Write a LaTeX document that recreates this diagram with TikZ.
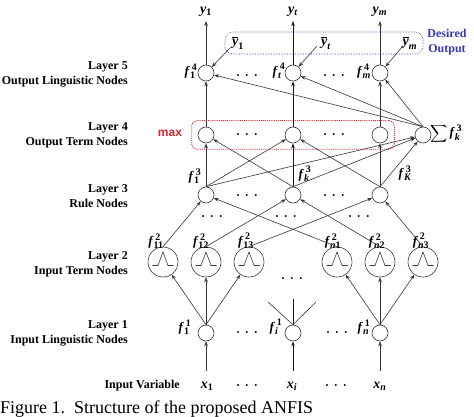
\documentclass[tikz,border=0pt]{standalone}
\usepackage{fontspec}
\usepackage{amsmath}
\setmainfont{Liberation Serif}[BoldFont={Liberation Serif Bold},ItalicFont={Liberation Serif Italic},BoldItalicFont={Liberation Serif Bold Italic}]
\newfontfamily\maxfont{Liberation Sans}
\DeclareMathSizes{12}{12}{9}{7}
\DeclareMathSizes{13}{13}{10}{7}
\DeclareMathSizes{14}{14}{10}{8}
\usetikzlibrary{arrows.meta,fit}
\definecolor{lc}{RGB}{55,55,55}
\definecolor{redb}{RGB}{215,35,45}
\definecolor{blueb}{RGB}{55,55,185}
\newcommand\bi[1]{\textbf{\textit{#1}}}
\newcommand\fl[2]{$\text{\bi{f}}_{\text{\bfseries #1}}^{\,\text{\bfseries #2}}$}
\newcommand\ddd{\makebox[22pt]{·\hfill·\hfill·}}
\begin{document}
\begin{tikzpicture}[x=1pt,y=-1pt,
 nd/.style={circle,draw=lc,line width=0.6pt,minimum size=16pt,inner sep=0pt},
 bignd/.style={circle,draw=lc,line width=0.6pt,minimum size=30pt,inner sep=0pt},
 arr/.style={draw=lc,line width=0.6pt,-{Stealth[length=5pt,width=3.6pt]}},
 thk/.style={line width=1pt,draw=black!90},
 plain/.style={draw=lc,line width=0.6pt},
 lab/.style={font=\fontsize{13}{13}\selectfont,inner sep=0pt},
 big/.style={font=\fontsize{14}{14}\selectfont,inner sep=0pt},
 layer/.style={font=\fontsize{12}{15}\selectfont\bfseries,align=right,anchor=east,inner sep=0pt},
 dots/.style={font=\fontsize{12}{12}\selectfont\bfseries,inner sep=0pt},
 redbox/.style={draw=redb,densely dotted,line width=0.9pt,rounded corners=5pt},
 bluebox/.style={draw=blueb,densely dotted,line width=0.6pt,rounded corners=8pt},
 glyph/.style={draw=lc,line width=0.6pt}
]
\useasboundingbox (0,0) rectangle (474,417);
\clip (0,0) rectangle (474,417);
\fill[white] (0,0) rectangle (474,417);

% layer labels
\node[layer] (L5) at (128,74.5) {Layer 5\\Output Linguistic Nodes};
\node[layer] (L4) at (128,135) {Layer 4\\Output Term Nodes};
\node[layer] (L3) at (128,196.5) {Layer 3\\Rule Nodes};
\node[layer] (L2) at (128,264.5) {Layer 2\\Input Term Nodes};
\node[layer] (L1) at (128,333.5) {Layer 1\\Input Linguistic Nodes};
\node[layer] (IV) at (180,386) {Input Variable};

% circles
\node[nd] (o1) at (206,73) {};
\node[nd] (ot) at (293,73) {};
\node[nd] (om) at (380,73) {};
\node[nd] (p1) at (206,135) {};
\node[nd] (pt) at (293,135) {};
\node[nd] (pm) at (380,135) {};
\node[nd] (sum) at (423,135) {};
\node[nd] (r1) at (206,195) {};
\node[nd] (rk) at (293,195) {};
\node[nd] (rK) at (380,195) {};
\node[bignd] (a1) at (163,262) {};
\node[bignd] (a2) at (206,262) {};
\node[bignd] (a3) at (249,262) {};
\node[bignd] (b1) at (337,262) {};
\node[bignd] (b2) at (380,262) {};
\node[bignd] (b3) at (423,262) {};
\node[nd] (l1a) at (206,333) {};
\node[nd] (l1b) at (293,333) {};
\node[nd] (l1c) at (380,333) {};

\foreach \n in {a1,a2,a3,b1,b2,b3}
  \draw[glyph] ([shift={(-10.5,3.5)}]\n.center) -- ++(5.5,0) -- ++(5,-13.5) -- ++(5,13.5) -- ++(5.5,0);

% boxes
\node[redbox,fit=(p1)(pm),inner sep=6pt] (mbox) {};
\node[bluebox,minimum width=198pt,minimum height=22pt] (dbox) at (324,43) {};
\node[text=redb,font=\maxfont\bfseries\fontsize{12}{12}\selectfont,inner sep=0pt] (max) at (170,133) {max};
\node[text=blueb,font=\fontsize{12}{15}\selectfont\bfseries,align=center,inner sep=0pt] (des) at (447,42) {Desired\\Output};

% outputs
\node[big] (y1) at (206,12) {\bi{y}$_{\text{\bfseries 1}}$};
\node[big] (yt) at (293,12) {\bi{y}$_{\text{\bfseries\itshape t}}$};
\node[big] (ym) at (380,12) {\bi{y}$_{\text{\bfseries\itshape m}}$};
\node[big] (yb1) at (238,43) {$\overline{\text{\bi{y}}}_{\text{\bfseries 1}}$};
\node[big] (ybt) at (326,43) {$\overline{\text{\bi{y}}}_{\text{\bfseries\itshape t}}$};
\node[big] (ybm) at (410,43) {$\overline{\text{\bi{y}}}_{\text{\bfseries\itshape m}}$};

% inputs
\node[big] (x1) at (207,386) {\bi{x}$_{\text{\bfseries 1}}$};
\node[big] (xi) at (292,386) {\bi{x}$_{\text{\bfseries\itshape i}}$};
\node[big] (xn) at (380,386) {\bi{x}$_{\text{\bfseries\itshape n}}$};

% f labels
\node[lab] (f14) at (191,71) {\fl{1}{4}};
\node[lab] (ft4) at (279,71) {\fl{\itshape t}{4}};
\node[lab] (fm4) at (364,71) {\fl{\itshape m}{4}};
\node[lab] (f13) at (195,176) {\fl{1}{3}};
\node[lab] (fk3) at (305,174) {\fl{\itshape k}{3}};
\node[lab] (fK3) at (405,173) {\fl{\itshape K}{3}};
\node[lab,anchor=west] (suml) at (430,134) {$\displaystyle\sum\text{\bi{f}}_{\text{\bfseries\itshape k}}^{\,\text{\bfseries 3}}$};
\node[lab] (f112) at (156,241) {\fl{11}{2}};
\node[lab] (f122) at (201,241) {\fl{12}{2}};
\node[lab] (f132) at (246,241) {\fl{13}{2}};
\node[lab] (fn12) at (333,241) {\fl{\itshape n\upshape 1}{2}};
\node[lab] (fn22) at (377,241) {\fl{\itshape n\upshape 2}{2}};
\node[lab] (fn32) at (421,241) {\fl{\itshape n\upshape 3}{2}};
\node[lab] (f11) at (185,327) {\fl{1}{1}};
\node[lab] (fi1) at (276,327) {\fl{\itshape i}{1}};
\node[lab] (fn1) at (364,327) {\fl{\itshape n}{1}};

% dots
\node[dots] (d5a) at (247,77) {\ddd};
\node[dots] (d5b) at (334,77) {\ddd};
\node[dots] (d4a) at (247,136) {\ddd};
\node[dots] (d4b) at (334,136) {\ddd};
\node[dots] (d3a) at (247,197) {\ddd};
\node[dots] (d3b) at (334,197) {\ddd};
\node[dots] (d2a) at (212,218) {\ddd};
\node[dots] (d2b) at (286,218) {\ddd};
\node[dots] (d2c) at (359,218) {\ddd};
\node[dots] (d2m) at (292,280) {\ddd};
\node[dots] (d1a) at (247,334) {\ddd};
\node[dots] (d1b) at (337,334) {\ddd};
\node[dots] (d0a) at (247,387) {\ddd};
\node[dots] (d0b) at (336,387) {\ddd};

% coordinates
\coordinate (x1s) at (206,371);
\coordinate (xis) at (293,371);
\coordinate (xns) at (380,371);
\coordinate (fa) at (268,302);
\coordinate (fb) at (293,299);
\coordinate (fc) at (316,302);
\coordinate (y1e) at (206,21);
\coordinate (yte) at (293,21);
\coordinate (yme) at (380,21);
\coordinate (yb1s) at (230,48);
\coordinate (ybts) at (317,46);
\coordinate (ybms) at (403,46);

% input arrows
\draw[arr] (x1s) -- (l1a);
\draw[arr,thk] (xis) -- (l1b);
\draw[arr] (xns) -- (l1c);

% layer1 -> layer2
\foreach \t in {a1,a2,a3} \draw[arr] (l1a.north) -- (\t);
\foreach \t in {b1,b2,b3} \draw[arr] (l1c.north) -- (\t);
\draw[plain] (l1b.north) -- (fa);
\draw[plain,thk] (l1b.north) -- (fb);
\draw[plain] (l1b.north) -- (fc);

% layer2 -> layer3
\draw[arr] (a1.north) -- (r1);
\draw[arr] (a2.north) -- (rk);
\draw[arr] (a3.north) -- (rK);
\draw[arr] (b1.north) -- (r1);
\draw[arr] (b2.north) -- (rk);
\draw[arr] (b3.north) -- (rK);

% layer3 -> layer4
\draw[arr] (r1.north) -- (p1);
\draw[arr] (r1.north) -- (pt);
\draw[arr] (r1.north) -- (sum);
\draw[arr] (rk.north) -- (p1);
\draw[arr,thk] (rk.north) -- (pt);
\draw[arr] (rk.north) -- (sum);
\draw[arr] (rK.north) -- (pt);
\draw[arr] (rK.north) -- (pm);
\draw[arr] (rK.north) -- (sum);

% layer4 -> layer5
\draw[arr] (p1.north) -- (o1);
\draw[arr,thk] (pt.north) -- (ot);
\draw[arr] (pm.north) -- (om);
\draw[arr] (sum.north) -- (o1);
\draw[arr] (sum.north) -- (ot);
\draw[arr] (sum.north) -- (om);

% layer5 -> outputs
\draw[arr] (o1.north) -- (y1e);
\draw[arr,thk] (ot.north) -- (yte);
\draw[arr] (om.north) -- (yme);
\draw[arr] (yb1s) -- (o1);
\draw[arr] (ybts) -- (ot);
\draw[arr] (ybms) -- (om);

% caption
\node[anchor=base west,inner sep=0pt,font=\fontsize{18}{18}\selectfont] (cap) at (0,413) {Figure 1.\ \ Structure of the proposed ANFIS};
\end{tikzpicture}
\end{document}
